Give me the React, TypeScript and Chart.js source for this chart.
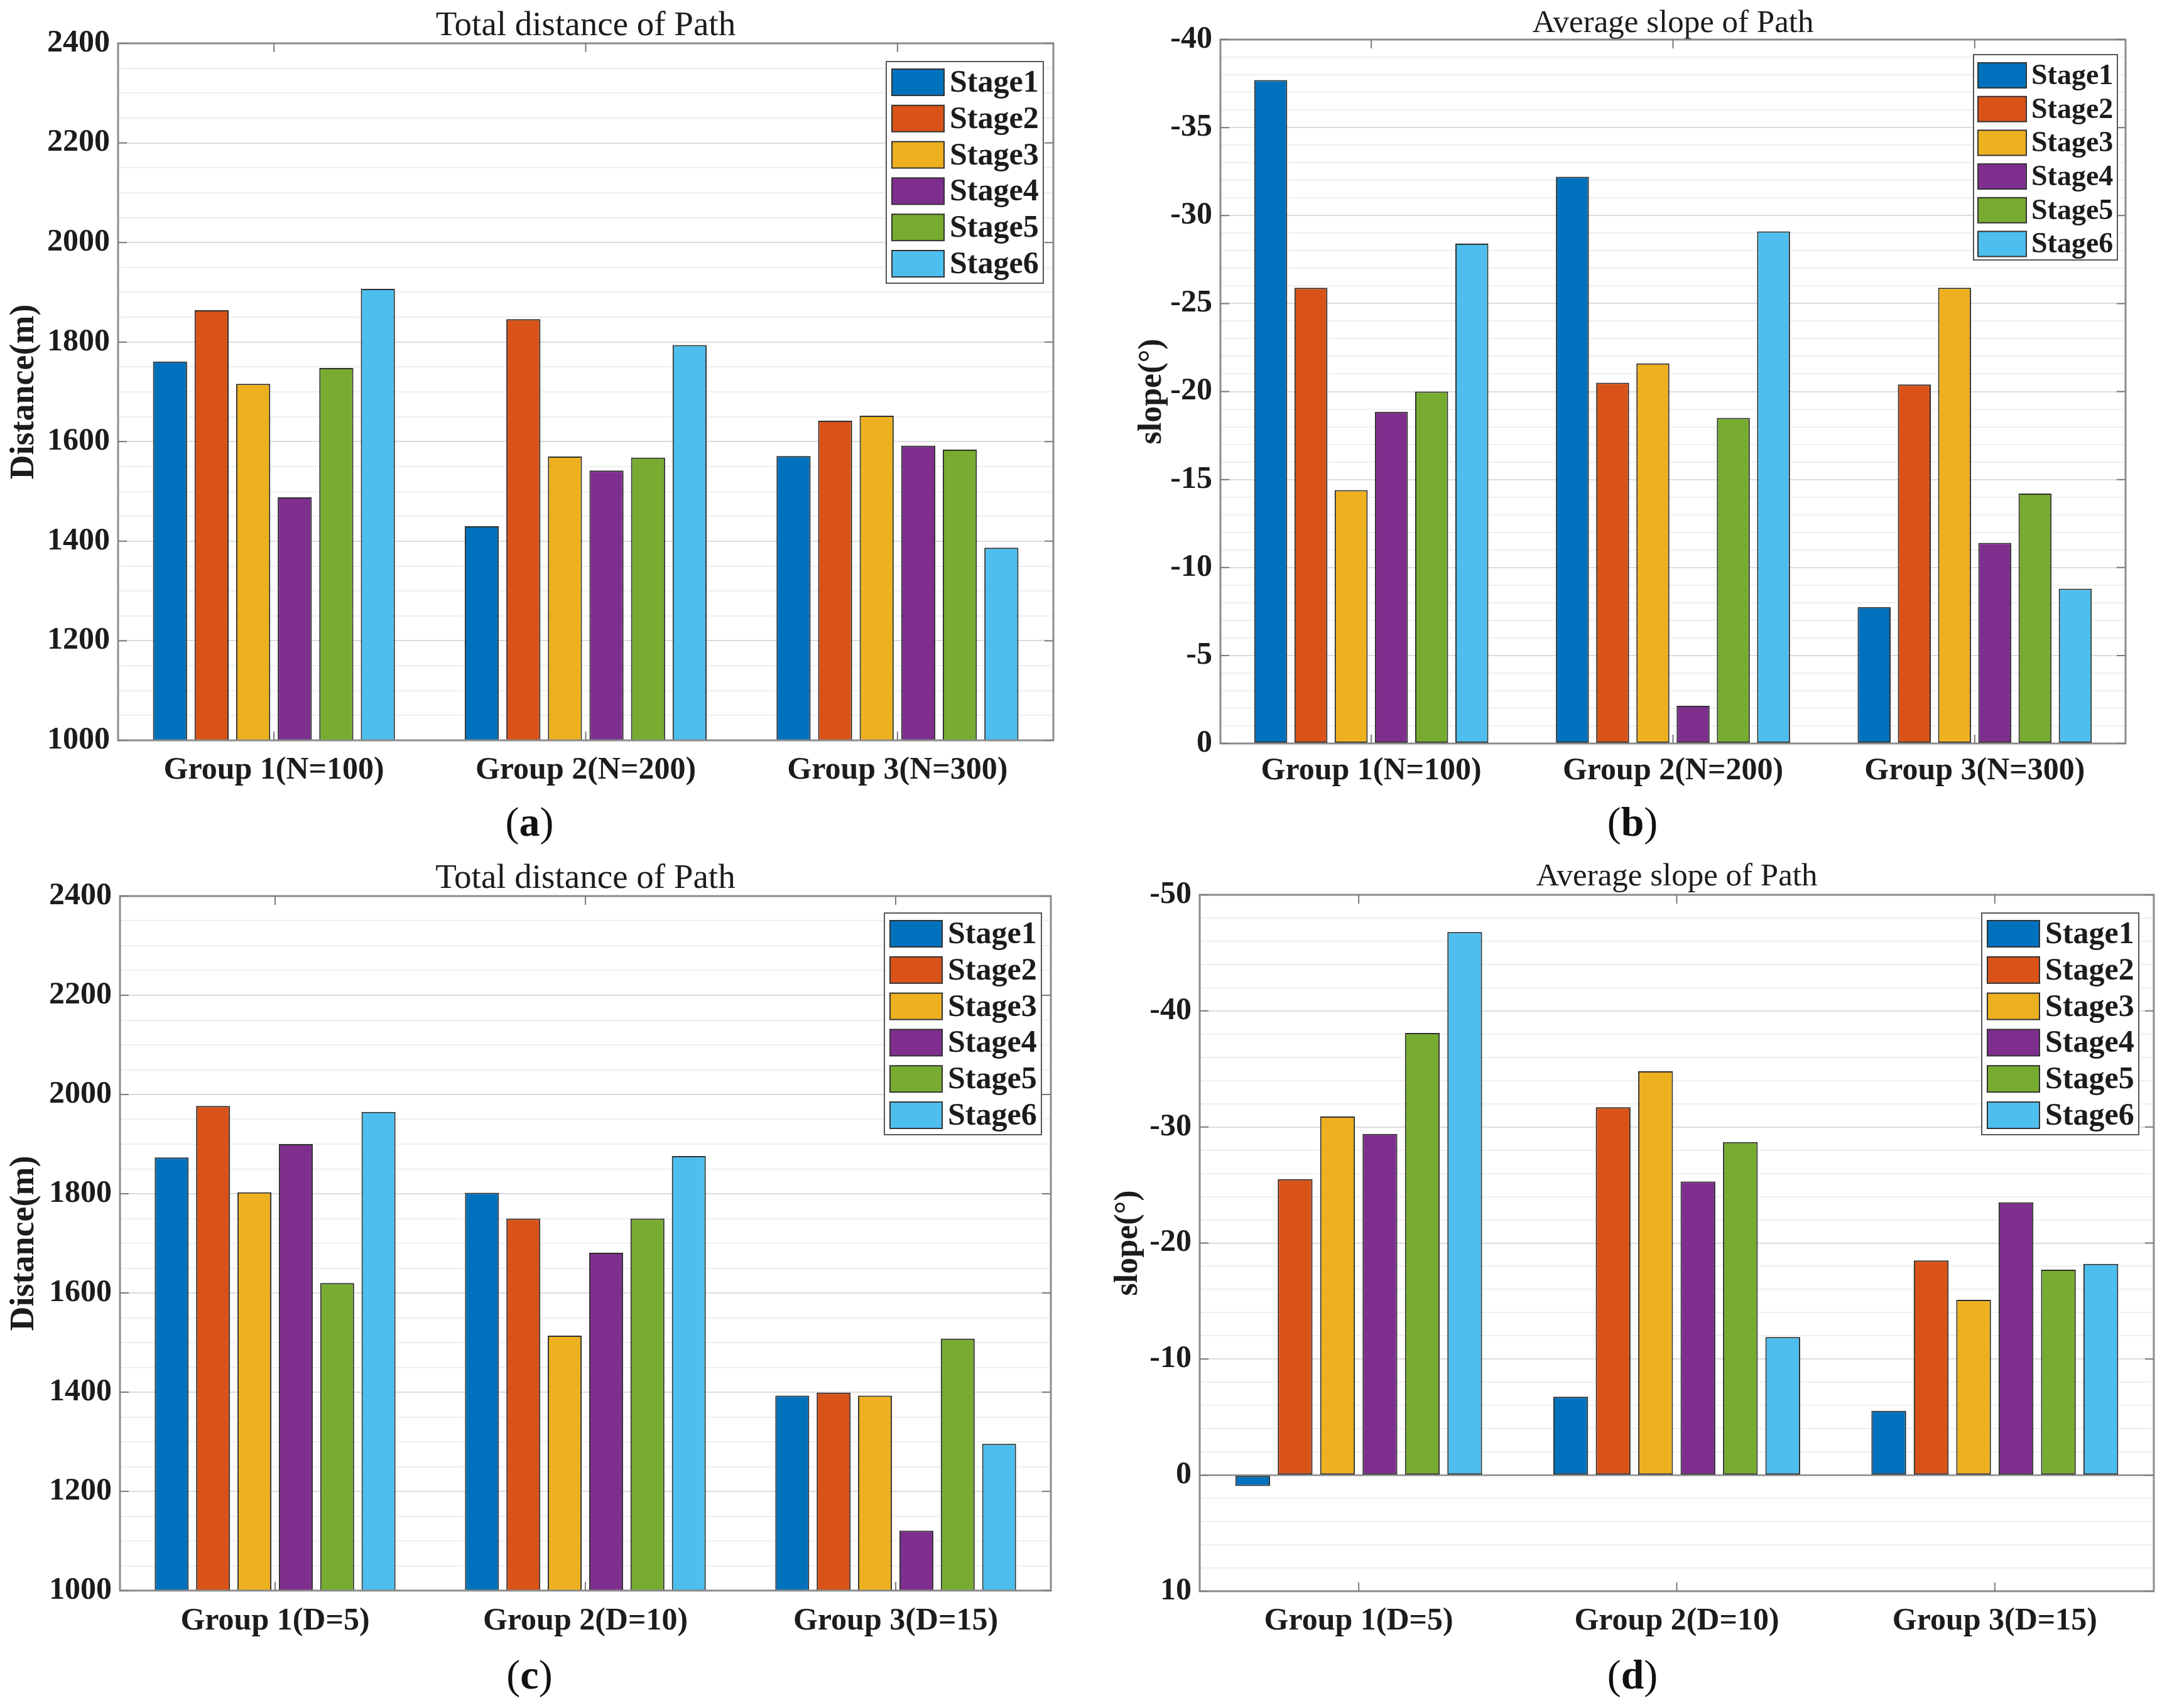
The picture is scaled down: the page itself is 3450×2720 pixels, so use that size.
import React, { useEffect, useRef } from 'react';
import { Chart, registerables } from 'chart.js';

Chart.register(...registerables);

// ---------- data ----------
const stages = ['Stage1', 'Stage2', 'Stage3', 'Stage4', 'Stage5', 'Stage6'];
const stageColors = ['#0072BD', '#D95319', '#EDB120', '#7E2F8E', '#77AC30', '#4DBEEE'];

const groupsN = ['Group 1(N=100)', 'Group 2(N=200)', 'Group 3(N=300)'];
const groupsD = ['Group 1(D=5)', 'Group 2(D=10)', 'Group 3(D=15)'];

// (a) Total distance, groups by N; rows = Stage1..Stage6, columns = Group1..3
const distanceByN: number[][] = [
  [1761, 1430, 1571],
  [1864, 1846, 1642],
  [1716, 1570, 1652],
  [1488, 1542, 1592],
  [1748, 1568, 1584],
  [1907, 1794, 1387],
];

// (b) Average slope, groups by N
const slopeByN: number[][] = [
  [-37.7, -32.2, -7.75],
  [-25.9, -20.5, -20.4],
  [-14.4, -21.6, -25.9],
  [-18.85, -2.14, -11.4],
  [-20.0, -18.5, -14.2],
  [-28.4, -29.1, -8.8],
];

// (c) Total distance, groups by D
const distanceByD: number[][] = [
  [1873, 1802, 1393],
  [1977, 1750, 1399],
  [1803, 1514, 1393],
  [1900, 1681, 1121],
  [1620, 1750, 1508],
  [1965, 1876, 1296],
];

// (d) Average slope, groups by D
const slopeByD: number[][] = [
  [0.94, -6.76, -5.54],
  [-25.5, -31.7, -18.5],
  [-30.9, -34.8, -15.1],
  [-29.4, -25.3, -23.5],
  [-38.1, -28.7, -17.7],
  [-46.8, -11.9, -18.2],
];

const FONT = "'Liberation Serif', 'Times New Roman', serif";
const TEXT = '#1c1c1c';

interface LegendCfg {
  rightGap: number; topGap: number; w: number; h: number;
  font: number; swX: number; sw: number; swH: number; textX: number; first: number; rowH: number;
}

interface PanelCfg {
  id: string;
  title: string;
  titleSize: number;
  titlePadTop: number;
  yTitle: string;
  yTitleSize: number;
  yTitlePad: number;
  labels: string[];
  data: number[][];
  min: number; max: number; step: number; major: number; reverse: boolean;
  plot: { l: number; t: number; r: number; b: number };
  canvasLeft: number; canvasTop: number;
  xPad: number;
  zeroLine: boolean;
  legend: LegendCfg;
  sub: string; subX: number; subY: number;
}

const XH = 100;
const RP = 12;

const legendBig: LegendCfg = { rightGap: 16, topGap: 29, w: 250, h: 353, font: 50, swX: 9, sw: 83, swH: 42, textX: 101, first: 33, rowH: 57.8 };
const legendSmall: LegendCfg = { rightGap: 13, topGap: 24, w: 229, h: 327, font: 46, swX: 7, sw: 77, swH: 40, textX: 92, first: 33, rowH: 53.7 };

const panels: PanelCfg[] = [
  {
    id: 'a', title: 'Total distance of Path', titleSize: 55, titlePadTop: 14,
    yTitle: 'Distance(m)', yTitleSize: 54, yTitlePad: 7,
    labels: groupsN, data: distanceByN, min: 1000, max: 2400, step: 50, major: 200, reverse: false,
    plot: { l: 188, t: 69, r: 1677, b: 1179 }, canvasLeft: 0, canvasTop: 0, xPad: 18, zeroLine: false,
    legend: legendBig, sub: 'a', subX: 843, subY: 1309,
  },
  {
    id: 'b', title: 'Average slope of Path', titleSize: 51, titlePadTop: 12,
    yTitle: 'slope(°)', yTitleSize: 52, yTitlePad: 10,
    labels: groupsN, data: slopeByN, min: -40, max: 0, step: 1, major: 5, reverse: true,
    plot: { l: 1943, t: 63, r: 3384, b: 1184 }, canvasLeft: 1793, canvasTop: 0, xPad: 14, zeroLine: false,
    legend: legendSmall, sub: 'b', subX: 2599, subY: 1309,
  },
  {
    id: 'c', title: 'Total distance of Path', titleSize: 55, titlePadTop: 14,
    yTitle: 'Distance(m)', yTitleSize: 54, yTitlePad: 7,
    labels: groupsD, data: distanceByD, min: 1000, max: 2400, step: 50, major: 200, reverse: false,
    plot: { l: 191, t: 1427, r: 1673, b: 2533 }, canvasLeft: 0, canvasTop: 1358, xPad: 19, zeroLine: false,
    legend: { ...legendBig, rightGap: 15, topGap: 27 }, sub: 'c', subX: 843, subY: 2667,
  },
  {
    id: 'd', title: 'Average slope of Path', titleSize: 51, titlePadTop: 15,
    yTitle: 'slope(°)', yTitleSize: 52, yTitlePad: 5,
    labels: groupsD, data: slopeByD, min: -50, max: 10, step: 2, major: 10, reverse: true,
    plot: { l: 1910, t: 1425, r: 3429, b: 2534 }, canvasLeft: 1760, canvasTop: 1356, xPad: 18, zeroLine: true,
    legend: { ...legendBig, rightGap: 24, topGap: 29 }, sub: 'd', subX: 2599, subY: 2667,
  },
];

const decorPlugin = {
  id: 'decor',
  beforeDatasetsDraw(chart: any, _args: any, opts: any) {
    if (!opts.zeroLine) return;
    const { ctx, chartArea: ca } = chart;
    const y = chart.scales.y;
    const py = y.getPixelForValue(0);
    ctx.save();
    ctx.strokeStyle = '#8a8a8a';
    ctx.lineWidth = 2.5;
    ctx.beginPath();
    ctx.moveTo(ca.left, py);
    ctx.lineTo(ca.right, py);
    ctx.stroke();
    ctx.restore();
  },
  afterDatasetsDraw(chart: any, _args: any, opts: any) {
    const { ctx, chartArea: ca } = chart;
    const xs = chart.scales.x;
    const ys = chart.scales.y;
    ctx.save();
    // box
    ctx.strokeStyle = '#8c8c8c';
    ctx.lineWidth = 3;
    ctx.strokeRect(ca.left, ca.top, ca.right - ca.left, ca.bottom - ca.top);
    // inward tick marks
    ctx.lineWidth = 2;
    ctx.strokeStyle = '#7a7a7a';
    ctx.beginPath();
    xs.ticks.forEach((_t: any, i: number) => {
      const px = xs.getPixelForTick(i);
      ctx.moveTo(px, ca.bottom);
      ctx.lineTo(px, ca.bottom - 14);
      ctx.moveTo(px, ca.top);
      ctx.lineTo(px, ca.top + 14);
    });
    ys.ticks.forEach((t: any) => {
      if (Math.round(t.value) % opts.major !== 0) return;
      const py = ys.getPixelForValue(t.value);
      ctx.moveTo(ca.left, py);
      ctx.lineTo(ca.left + 14, py);
      ctx.moveTo(ca.right, py);
      ctx.lineTo(ca.right - 14, py);
    });
    ctx.stroke();

    // legend inside the plot, top-right
    const L: LegendCfg = opts.legend;
    const bx = ca.right - L.rightGap - L.w;
    const by = ca.top + L.topGap;
    ctx.fillStyle = '#ffffff';
    ctx.fillRect(bx, by, L.w, L.h);
    ctx.strokeStyle = '#555555';
    ctx.lineWidth = 2;
    ctx.strokeRect(bx, by, L.w, L.h);
    ctx.font = `bold ${L.font}px ${FONT}`;
    ctx.textBaseline = 'middle';
    ctx.textAlign = 'left';
    chart.data.datasets.forEach((ds: any, i: number) => {
      const cy = by + L.first + i * L.rowH;
      ctx.fillStyle = ds.backgroundColor;
      ctx.fillRect(bx + L.swX, cy - L.swH / 2, L.sw, L.swH);
      ctx.strokeStyle = '#333333';
      ctx.lineWidth = 2;
      ctx.strokeRect(bx + L.swX, cy - L.swH / 2, L.sw, L.swH);
      ctx.fillStyle = TEXT;
      ctx.fillText(ds.label, bx + L.textX, cy + 2);
    });
    ctx.restore();
  },
};

function Panel({ cfg }: { cfg: PanelCfg }) {
  const ref = useRef<HTMLCanvasElement>(null);
  const YW = cfg.plot.l - cfg.canvasLeft;
  const TH = cfg.plot.t - cfg.canvasTop;
  const width = YW + (cfg.plot.r - cfg.plot.l) + RP;
  const height = TH + (cfg.plot.b - cfg.plot.t) + XH;

  useEffect(() => {
    const canvas = ref.current;
    if (!canvas) return;
    const chart = new Chart(canvas, {
      type: 'bar',
      data: {
        labels: cfg.labels,
        datasets: stages.map((s, i) => ({
          label: s,
          data: cfg.data[i],
          backgroundColor: stageColors[i],
          borderColor: '#2e2e2e',
          borderWidth: 2,
          borderSkipped: false,
          categoryPercentage: 0.8,
          barPercentage: 0.82,
        })),
      },
      options: {
        responsive: false,
        animation: false,
        devicePixelRatio: 1,
        layout: { padding: { left: 0, right: RP, top: 0, bottom: 0 } },
        plugins: {
          legend: { display: false },
          tooltip: { enabled: false },
          title: {
            display: true,
            text: cfg.title,
            fullSize: false,
            color: TEXT,
            font: { family: FONT, size: cfg.titleSize, weight: 'normal', lineHeight: 1 },
            padding: { top: cfg.titlePadTop, bottom: TH - cfg.titlePadTop - cfg.titleSize },
          },
          // @ts-ignore
          decor: { zeroLine: cfg.zeroLine, major: cfg.major, legend: cfg.legend },
        },
        scales: {
          x: {
            grid: { display: false, drawTicks: false },
            border: { display: false },
            ticks: {
              color: TEXT,
              padding: cfg.xPad,
              font: { family: FONT, size: 50, weight: 'bold' },
            },
            afterFit: (s: any) => { s.height = XH; },
          },
          y: {
            min: cfg.min,
            max: cfg.max,
            reverse: cfg.reverse,
            border: { display: false },
            grid: {
              drawTicks: false,
              lineWidth: 2,
              color: (ctx: any) => {
                const v = ctx.tick ? Math.round(ctx.tick.value) : 0;
                return v % cfg.major === 0 ? '#dcdcdc' : '#efefef';
              },
            },
            ticks: {
              stepSize: cfg.step,
              autoSkip: false,
              color: TEXT,
              padding: 13,
              font: { family: FONT, size: 50, weight: 'bold' },
              callback: (v: any) => (Math.round(Number(v)) % cfg.major === 0 ? String(Math.round(Number(v))) : ''),
            },
            title: {
              display: true,
              text: cfg.yTitle,
              color: TEXT,
              font: { family: FONT, size: cfg.yTitleSize, weight: 'bold' },
              padding: { top: cfg.yTitlePad, bottom: 0 },
            },
            afterFit: (s: any) => { s.width = YW; },
          },
        },
      } as any,
      plugins: [decorPlugin as any],
    });
    return () => chart.destroy();
  }, [cfg]);

  return (
    <>
      <canvas
        ref={ref}
        width={width}
        height={height}
        style={{ position: 'absolute', left: cfg.canvasLeft, top: cfg.canvasTop, width, height }}
      />
      <div
        style={{
          position: 'absolute',
          left: cfg.subX,
          top: cfg.subY,
          transform: 'translate(-50%, -50%)',
          fontFamily: FONT,
          fontSize: 66,
          lineHeight: 1,
          color: '#111',
          whiteSpace: 'nowrap',
        }}
      >
        (<b>{cfg.sub}</b>)
      </div>
    </>
  );
}

export default function App() {
  return (
    <div
      style={{
        position: 'absolute',
        left: 0,
        top: 0,
        width: 3450,
        height: 2720,
        background: '#ffffff',
        overflow: 'hidden',
      }}
    >
      {panels.map((p) => (
        <Panel key={p.id} cfg={p} />
      ))}
    </div>
  );
}
